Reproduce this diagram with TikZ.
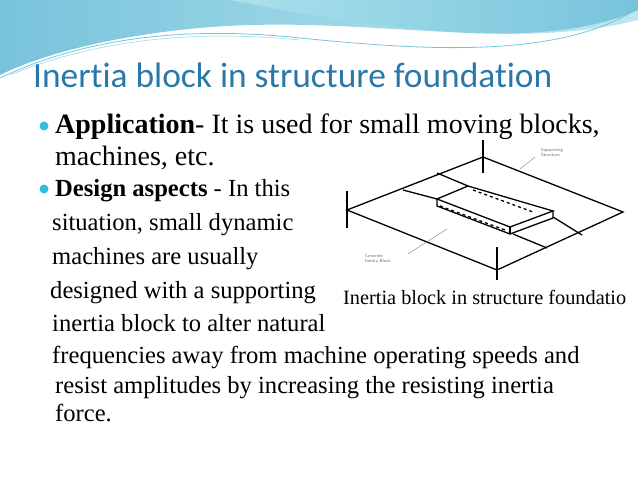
\documentclass[tikz,border=0pt]{standalone}
\usepackage{fontspec}
\setmainfont{Liberation Serif}
\newfontfamily\titlefont{Carlito}
\usetikzlibrary{shapes.geometric,calc}
\definecolor{titleblue}{RGB}{40,120,170}
\definecolor{bul}{RGB}{50,190,220}
\definecolor{waveA}{RGB}{120,195,220}
\definecolor{waveB}{RGB}{170,225,235}
\tikzset{
 body/.style={anchor=base west,inner sep=0pt,font=\fontsize{28}{28}\selectfont},
 bodys/.style={anchor=base west,inner sep=0pt,font=\fontsize{24.6}{24.6}\selectfont},
 tiny/.style={inner sep=0pt,font=\fontsize{4.5}{5}\selectfont\sffamily,align=left,text=gray!80!black},
 fl/.style={line width=1.3pt},
}
\begin{document}
\begin{tikzpicture}[x=1pt,y=-1pt]
\useasboundingbox (0,0) rectangle (638,478);
% header waves
\shade[left color=waveA,right color=waveB!80] (0,0) -- (638,0) -- (638,20) .. controls (500,55) and (350,10) .. (180,30) .. controls (90,40) and (30,60) .. (0,75) -- cycle;
\shade[left color=waveB,right color=waveA] (230,0) -- (638,0) -- (638,10) .. controls (560,45) and (430,40) .. (230,0) -- cycle;
\draw[waveA,line width=0.8pt] (0,78) .. controls (80,40) and (180,25) .. (300,38) .. controls (420,50) and (560,60) .. (638,8);
\draw[bul!60,line width=0.5pt] (10,75) .. controls (100,38) and (200,30) .. (300,40);
% title
\node[anchor=base west,inner sep=0pt,text=titleblue,font=\titlefont\fontsize{35.4}{35.4}\selectfont] (title) at (33,88) {Inert\kern0pt ia block in structure foundat\kern0pt ion};
% bullets
\fill[bul] (44,126) circle (4.5) (44,189) circle (4.5);
\node[body] (l1) at (55,134) {\textbf{Application}- It is used for small moving blocks,};
\node[body] (l2) at (55,166) {machines, etc.};
\node[bodys] (l3) at (55,197) {\textbf{Design aspects} - In this};
\node[bodys] (l4) at (52,231) {situation, small dynamic};
\node[bodys] (l5) at (52,265) {machines are usually};
\node[bodys] (l6) at (50,299) {designed with a supporting};
\node[bodys] (l7) at (52,332) {inertia block to alter natural};
\node[bodys] (l8) at (52,364) {frequencies away from machine operating speeds and};
\node[bodys] (l9) at (55,394) {resist amplitudes by increasing the resisting inertia};
\node[bodys] (l10) at (55,422) {force.};
% figure
\coordinate (L) at (347,210); \coordinate (T) at (483,157);
\coordinate (R) at (623,212); \coordinate (B) at (497,270);
\draw[fl] (L) -- (T) -- (R) -- (B) -- cycle;
\draw[fl] (347,191) -- (347,228);
\draw[fl] (483,140) -- (483,173);
\draw[fl] (497,247) -- (497,280);
\coordinate (A) at (437,199); \coordinate (Bk) at (468,186);
\coordinate (C) at (553,211); \coordinate (D) at (510,227);
\draw[fl] (403,190) -- (A);
\draw[fl] (437,173) -- (Bk);
\draw[fl,fill=white] (A) -- (Bk) -- (C) -- (D) -- cycle;
\draw[fl] (A) -- ++(0,7) -- ($(D)+(0,7)$) -- ($(C)+(0,7)$) -- (C);
\draw[fl] (D) -- ++(0,7);
\draw[fl] (553,217) -- (582,235);
\draw[fl] (513,234) -- (547,248);
\draw[fl,dashed] (473,190) -- (533,212);
\draw[fl,dashed] (440,206) -- (505,230);
\node[tiny] (sup) at (552,152) {Supporting\\Structure};
\draw[gray] (535,157) -- (520,169);
\node[tiny] (con) at (378,258) {Concrete\\Inertia Block};
\draw[gray] (408,254) -- (447,229);
\node[anchor=base west,inner sep=0pt,font=\fontsize{20.3}{20.3}\selectfont] (cap) at (343,305) {Inertia block in structure foundatio};
\end{tikzpicture}
\end{document}
